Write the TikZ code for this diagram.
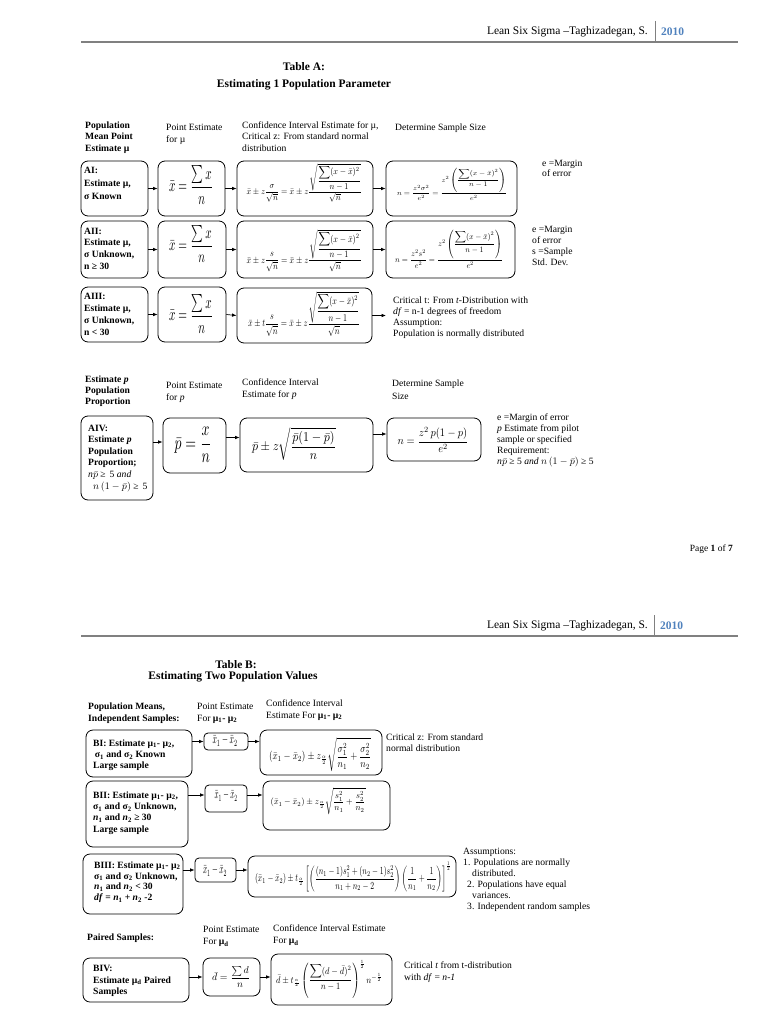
\documentclass[tikz,border=0pt]{standalone}
\usepackage{amsmath}
\usepackage{graphicx}
\usepackage{fontspec}
\setmainfont{Liberation Serif}
\usetikzlibrary{arrows.meta}
\definecolor{hblue}{RGB}{79,129,189}
\definecolor{hgray}{RGB}{128,128,128}
\newcommand\fm[3]{\resizebox*{#1pt}{#2pt}{$\displaystyle #3$}}
\newcommand\bx[6][box]{\node[#1, minimum width={#5-#3}, minimum height={#6-#4}] (#2) at ({(#3+#5)/2},{(#4+#6)/2}) {};}
\newcommand\tb[6]{\node[txt, font={\fontsize{9.6}{#4}\selectfont#5}] (#1) at (#2,{#3-3.5}) {#6};}
\begin{document}
\begin{tikzpicture}[x=1pt,y=-1pt,
  box/.style={draw, rounded corners=7pt, line width=0.8pt, inner sep=0pt},
  sbox/.style={draw, rounded corners=4pt, line width=0.8pt, inner sep=0pt},
  arr/.style={-{Latex[length=4.5pt,width=3.6pt]}, line width=0.7pt},
  txt/.style={anchor=north west, inner sep=0pt, align=left},
  fml/.style={inner sep=0pt},
  title/.style={inner sep=0pt, font=\fontsize{11.5}{13}\selectfont\bfseries},
  hdr/.style={inner sep=0pt, font=\fontsize{11.5}{13}\selectfont}]
\useasboundingbox[fill=white] (0,0) rectangle (768,1024);

% ---------- page headers ----------
\node[hdr, anchor=east] (h1) at (648,32) {Lean Six Sigma –Taghizadegan, S.};
\node[hdr, anchor=west, font=\fontsize{11.5}{13}\selectfont\bfseries, text=hblue] (y1) at (661,32) {2010};
\draw[hgray, line width=1.1pt] (81,42) -- (738,42);
\draw[hgray, line width=0.8pt] (655,21) -- (655,42);

\node[anchor=east, inner sep=0pt, font=\fontsize{9.5}{11}\selectfont] (pg) at (733,549) {Page \textbf{1} of \textbf{7}};

\node[hdr, anchor=east] (h2) at (648,626) {Lean Six Sigma –Taghizadegan, S.};
\node[hdr, anchor=west, font=\fontsize{11.5}{13}\selectfont\bfseries, text=hblue] (y2) at (660,626) {2010};
\draw[hgray, line width=1.1pt] (81,636) -- (738,636);
\draw[hgray, line width=0.8pt] (654,615) -- (654,636);

% ---------- Table A ----------
\node[title] (tA1) at (304,67) {Table A:};
\node[title] (tA2) at (304,85) {Estimating 1 Population Parameter};

\tb{hA1}{85}{125}{11.5}{\bfseries}{Population\\Mean Point\\Estimate µ}
\tb{hA2}{166}{127}{12}{}{Point Estimate\\for µ}
\tb{hA3}{242}{125}{11.5}{}{Confidence Interval Estimate for µ,\\Critical z: From standard normal\\distribution}
\tb{hA4}{395}{127}{12}{}{Determine Sample Size}

% AI
\bx{a1}{81}{161}{148}{216}
\bx{b1}{158}{161}{225}{216}
\bx{c1}{237}{161}{373}{216}
\bx{d1}{386}{161}{517}{216}
\tb{tA1}{84}{170}{13}{\bfseries}{AI:\\Estimate µ,\\σ Known}
\node[fml] (fb1) at (191,185) {\fm{44}{38}{\bar{x} = \frac{\sum x}{n}}};
\node[fml] (fc1) at (304,183) {\fm{115}{39}{\bar{x}\pm z\frac{\sigma}{\sqrt{n}} = \bar{x}\pm z\frac{\sqrt{\dfrac{\displaystyle\sum (x-\bar{x})^2}{n-1}}}{\sqrt{n}}}};
\node[fml] (fd1) at (452,184) {\fm{110}{32}{n = \frac{z^2\sigma^2}{e^2} = \frac{z^2\left(\dfrac{\displaystyle\sum (x-\bar{x})^2}{n-1}\right)}{e^2}}};
\tb{nA1}{542}{163}{10.5}{}{e =Margin\\of error}
\draw[arr] (a1.east) -- (b1.west);
\draw[arr] (b1.east) -- (c1.west);
\draw[arr] (c1.east) -- (d1.west);

% AII
\bx{a2}{81}{221}{148}{278}
\bx{b2}{158}{221}{226}{278}
\bx{c2}{237}{221}{373}{278}
\bx{d2}{386}{221}{515}{278}
\tb{tA2}{84}{231}{11.9}{\bfseries}{AII:\\Estimate µ,\\σ Unknown,\\n ≥ 30}
\node[fml] (fb2) at (191,244) {\fm{44}{36}{\bar{x} = \frac{\sum x}{n}}};
\node[fml] (fc2) at (304,251) {\fm{115}{42}{\bar{x}\pm z\frac{s}{\sqrt{n}} = \bar{x}\pm z\frac{\sqrt{\dfrac{\displaystyle\sum (x-\bar{x})^2}{n-1}}}{\sqrt{n}}}};
\node[fml] (fd2) at (449,249) {\fm{108}{38}{n = \frac{z^2 s^2}{e^2} = \frac{z^2\left(\dfrac{\displaystyle\sum (x-\bar{x})^2}{n-1}\right)}{e^2}}};
\tb{nA2}{532}{229}{11}{}{e =Margin\\of error\\s =Sample\\Std. Dev.}
\draw[arr] (a2.east) -- (b2.west);
\draw[arr] (b2.east) -- (c2.west);
\draw[arr] (c2.east) -- (d2.west);

% AIII
\bx{a3}{81}{287}{148}{342}
\bx{b3}{158}{287}{226}{342}
\bx{c3}{237}{288}{372}{343}
\coordinate (c3x) at (386,315.5);
\tb{tA3}{84}{296}{12}{\bfseries}{AIII:\\Estimate µ,\\σ Unknown,\\n < 30}
\node[fml] (fb3) at (191,314) {\fm{44}{38}{\bar{x} = \frac{\sum x}{n}}};
\node[fml] (fc3) at (304,314) {\fm{112}{45}{\bar{x}\pm t\frac{s}{\sqrt{n}} = \bar{x}\pm z\frac{\sqrt{\dfrac{\displaystyle\sum (x-\bar{x})^2}{n-1}}}{\sqrt{n}}}};
\tb{nA3}{393}{300}{11.1}{}{Critical t: From \textit{t}-Distribution with\\\textit{df} = n-1 degrees of freedom\\Assumption:\\Population is normally distributed}
\draw[arr] (a3.east) -- (b3.west);
\draw[arr] (b3.east) -- (c3.west);
\draw[arr] (c3.east) -- (c3x);

% AIV
\tb{hP1}{85}{379}{11}{\bfseries}{Estimate \textit{p}\\Population\\Proportion}
\tb{hP2}{166}{385}{12}{}{Point Estimate\\for \textit{p}}
\tb{hP3}{242}{382}{12}{}{Confidence Interval\\Estimate for \textit{p}}
\tb{hP4}{392}{383}{13}{}{Determine Sample\\Size}
\bx{a4}{81}{416}{153}{500}
\bx{b4}{163}{418}{226}{473}
\bx{c4}{240}{418}{373}{472}
\bx{d4}{387}{418}{481}{461}
\tb{tA4}{88}{428}{11.6}{\bfseries}{AIV:\\Estimate \textit{p}\\Population\\Proportion;\\\textmd{\textit{n}$\bar{p}$ ≥ \,5 \textit{and}}}
\node[anchor=west, inner sep=0pt, font=\fontsize{9.6}{12}\selectfont] (tA4b) at (93,487) {$n\,(1-\bar{p})$ ≥ \,5};
\node[fml] (fb4) at (193,445) {\fm{37}{35}{\bar{p} = \frac{x}{n}}};
\node[fml] (fc4) at (294,444) {\fm{84}{33}{\bar{p}\pm z\sqrt{\frac{\bar{p}(1-\bar{p})}{n}}}};
\node[fml] (fd4) at (433,440) {\fm{71}{25}{n = \frac{z^2\,p(1-p)}{e^2}}};
\tb{nA4}{497}{417}{11}{}{e =Margin of error\\\textit{p} Estimate from pilot\\sample or specified\\Requirement:\\\textit{n}$\bar{p}$ ≥ 5 \textit{and} $n\,(1-\bar{p})$ ≥ 5}
\coordinate (q41) at ([yshift=3.5pt]b4.west);
\draw[arr] (a4.east |- q41) -- (q41);
\coordinate (q42) at ([yshift=8pt]b4.east);
\draw[arr] (q42) -- (q42 -| c4.west);
\coordinate (q43) at ([yshift=5.5pt]d4.west);
\draw[arr] (c4.east |- q43) -- (q43);

% ---------- Table B ----------
\node[title] (tB1) at (236,665) {Table B:};
\node[title] (tB2) at (233,677) {Estimating Two Population Values};
\tb{hB1}{88}{706}{12}{\bfseries}{Population Means,\\Independent Samples:}
\tb{hB2}{197}{706}{12}{}{Point Estimate\\For \textbf{µ\textsubscript{1}- µ\textsubscript{2}}}
\tb{hB3}{266}{703}{12}{}{Confidence Interval\\Estimate For \textbf{µ\textsubscript{1}- µ\textsubscript{2}}}

% BI
\bx{e1}{86}{730}{192}{777}
\bx[sbox]{f1}{204}{733}{248}{750}
\bx{g1}{260}{730}{382}{775}
\tb{tB1}{93}{743}{11.2}{\bfseries}{BI: Estimate µ\textsubscript{1}- µ\textsubscript{2},\\\,σ\textsubscript{1} and σ\textsubscript{2} Known\\Large sample}
\node[fml] (ff1) at (225,741) {\fm{25}{10}{\bar{x}_1-\bar{x}_2}};
\node[fml] (fg1) at (320,755) {\fm{102}{34}{(\bar{x}_1-\bar{x}_2)\pm z_{\frac{\alpha}{2}}\sqrt{\frac{\sigma_1^2}{n_1}+\frac{\sigma_2^2}{n_2}}}};
\tb{nB1}{386}{737}{11}{}{Critical z: From standard\\normal distribution}
\draw[arr] (e1.east |- f1.west) -- (f1.west);
\draw[arr] (f1.east) -- (f1.east -| g1.west);

% BII
\bx{e2}{86}{781}{188}{847}
\bx[sbox]{f2}{205}{785}{247}{812}
\bx{g2}{263}{781}{390}{830}
\tb{tB2}{93}{795}{11.3}{\bfseries}{BII: Estimate µ\textsubscript{1}- µ\textsubscript{2},\\σ\textsubscript{1} and σ\textsubscript{2} Unknown,\\\textit{n}\textsubscript{1} and \textit{n}\textsubscript{2} ≥ 30\\Large sample}
\node[fml] (ff2) at (226,796) {\fm{23}{10}{\bar{x}_1-\bar{x}_2}};
\node[fml] (fg2) at (318,801) {\fm{95}{27}{(\bar{x}_1-\bar{x}_2)\pm z_{\frac{\alpha}{2}}\sqrt{\frac{s_1^2}{n_1}+\frac{s_2^2}{n_2}}}};
\coordinate (q21) at ([yshift=3.5pt]f2.west);
\draw[arr] (e2.east |- q21) -- (q21);
\coordinate (q22) at ([yshift=3.5pt]f2.east);
\draw[arr] (q22) -- (q22 -| g2.west);

% BIII
\bx{e3}{83}{854}{183}{914}
\bx[sbox]{f3}{195}{858}{236}{882}
\bx{g3}{248}{856}{456}{897}
\tb{tB3}{94}{865}{10.8}{\bfseries}{BIII: Estimate µ\textsubscript{1}- µ\textsubscript{2}\\σ\textsubscript{1} and σ\textsubscript{2} Unknown,\\\textit{n}\textsubscript{1} and \textit{n}\textsubscript{2} < 30\\\textit{df} = \textit{n}\textsubscript{1} + \textit{n}\textsubscript{2} -2}
\node[fml] (ff3) at (215,871) {\fm{24}{10}{\bar{x}_1-\bar{x}_2}};
\node[fml] (fg3) at (353,877) {\fm{196}{30}{(\bar{x}_1-\bar{x}_2)\pm t_{\frac{\alpha}{2}}\left[\left(\dfrac{(n_1-1)s_1^2+(n_2-1)s_2^2}{n_1+n_2-2}\right)\left(\dfrac{1}{n_1}+\dfrac{1}{n_2}\right)\right]^{\frac{1}{2}}}};
\tb{nB3}{463}{851}{11.1}{}{Assumptions:\\1. Populations are normally\\\hspace*{9pt}distributed.\\\hspace*{4pt}2. Populations have equal\\\hspace*{9pt}variances.\\\hspace*{4pt}3. Independent random samples}
\draw[arr] (e3.east |- f3.west) -- (f3.west);
\draw[arr] (f3.east) -- (f3.east -| g3.west);

% BIV
\tb{hC1}{87}{937}{12}{\bfseries}{Paired Samples:}
\tb{hC2}{203}{929}{12.5}{}{Point Estimate\\For \textbf{µ\textsubscript{d}}}
\tb{hC3}{273}{928}{12.5}{}{Confidence Interval Estimate\\For \textbf{µ\textsubscript{d}}}
\bx{e4}{83}{958}{189}{1002}
\bx[box]{f4}{203}{958}{260}{996}
\bx{g4}{271}{954}{392}{1005}
\tb{tB4}{93}{969}{11.5}{\bfseries}{BIV:\\Estimate µ\textsubscript{d} Paired\\Samples}
\node[fml] (ff4) at (231,977) {\fm{38}{21}{\bar{d} = \frac{\sum d}{n}}};
\node[fml] (fg4) at (329,979) {\fm{106}{38}{\bar{d}\pm t_{\frac{\alpha}{2}}\left(\dfrac{\displaystyle\sum (d-\bar{d})^2}{n-1}\right)^{\frac{1}{2}} n^{-\frac{1}{2}}}};
\tb{nB4}{404}{965}{12}{}{Critical \textit{t} from t-distribution\\with \textit{df} = \textit{n-1}}
\draw[arr] (e4.east |- f4.west) -- (f4.west);
\draw[arr] (f4.east) -- (f4.east -| g4.west);
\end{tikzpicture}
\end{document}
